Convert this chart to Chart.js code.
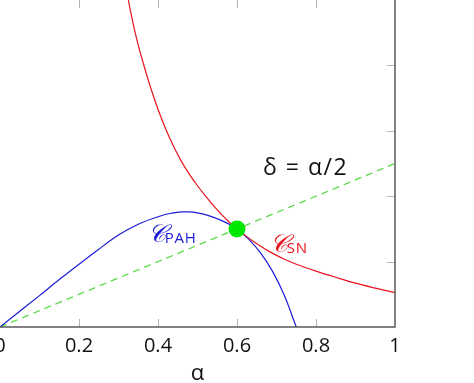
<!DOCTYPE html>
<html>
<head>
<meta charset="utf-8">
<script src="https://cdn.jsdelivr.net/npm/chart.js@4/dist/chart.umd.min.js"></script>
<style>
html,body{margin:0;padding:0;background:#fff;overflow:hidden;}
#wrap{position:relative;width:474px;height:383px;}
</style>
</head>
<body>
<div id="wrap"><canvas id="c" width="474" height="383"></canvas></div>
<script>
// tick values
const xTicks = [0, 0.2, 0.4, 0.6, 0.8, 1];
const yTicks = [0, 0.2, 0.4, 0.6, 0.8, 1];

// C_PAH curve (blue)
const alphaPAH = [0, 0.05, 0.1, 0.15, 0.2, 0.25, 0.3, 0.35, 0.4, 0.43, 0.46, 0.48, 0.5, 0.53, 0.56, 0.6, 0.63, 0.66, 0.69, 0.72, 0.75];
const deltaPAH = [0, 0.048, 0.096, 0.145, 0.192, 0.238, 0.281, 0.314, 0.337, 0.347, 0.352, 0.352, 0.349, 0.34, 0.326, 0.30, 0.268, 0.226, 0.17, 0.096, 0];

// C_SN curve (red)
const alphaSN = [0.325, 0.33, 0.34, 0.35, 0.36, 0.38, 0.40, 0.42, 0.44, 0.46, 0.48, 0.50, 0.52, 0.54, 0.56, 0.58, 0.60, 0.62, 0.64, 0.66, 0.68, 0.70, 0.72, 0.75, 0.80, 0.85, 0.90, 0.95, 1.0];
const deltaSN = [1.0, 0.968, 0.912, 0.862, 0.818, 0.737, 0.666, 0.604, 0.551, 0.505, 0.466, 0.432, 0.401, 0.372, 0.345, 0.321, 0.300, 0.281, 0.263, 0.247, 0.232, 0.219, 0.207, 0.192, 0.171, 0.152, 0.134, 0.119, 0.105];

// line delta = alpha/2
const alphaLine = [0, 1];
const deltaLine = [0, 0.5];

// intersection point
const alphaDot = [0.6];
const deltaDot = [0.3];

const pts = (xs, ys) => xs.map((x, i) => ({x: x, y: ys[i]}));

const framePlugin = {
  id: 'frame',
  afterDatasetsDraw(chart) {
    const {ctx, chartArea: a, scales: {x, y}} = chart;
    ctx.save();
    // inward ticks
    ctx.strokeStyle = '#b4b4b4';
    ctx.lineWidth = 1;
    const L = 8;
    ctx.beginPath();
    xTicks.slice(1, -1).forEach(v => {
      const px = Math.round(x.getPixelForValue(v)) + 0.5;
      ctx.moveTo(px, a.bottom); ctx.lineTo(px, a.bottom - L);
      ctx.moveTo(px, a.top); ctx.lineTo(px, a.top + L);
    });
    yTicks.slice(1, -1).forEach(v => {
      const py = Math.round(y.getPixelForValue(v)) + 0.5;
      ctx.moveTo(a.right, py); ctx.lineTo(a.right - L, py);
    });
    ctx.stroke();
    // frame lines (bottom and right)
    ctx.strokeStyle = '#5a5a5a';
    ctx.lineWidth = 1.5;
    ctx.beginPath();
    ctx.moveTo(a.left, a.bottom); ctx.lineTo(a.right, a.bottom); ctx.lineTo(a.right, a.top - 2);
    ctx.stroke();

    // annotations
    ctx.textBaseline = 'alphabetic';
    ctx.textAlign = 'left';
    ctx.fillStyle = '#111111';
    ctx.font = '23px "Open Sans", sans-serif';
    try { ctx.letterSpacing = '1.5px'; } catch (e) {}
    ctx.fillText('δ = α/2', x.getPixelForValue(0.666), y.getPixelForValue(0.464));
    try { ctx.letterSpacing = '0px'; } catch (e) {}

    const drawC = (color, sub, ax, dy) => {
      const px = x.getPixelForValue(ax), py = y.getPixelForValue(dy);
      ctx.fillStyle = color;
      ctx.font = 'italic 25px "DejaVu Serif", serif';
      ctx.fillText('𝒞', px, py);
      const w = ctx.measureText('𝒞').width;
      ctx.font = '15px "Open Sans", sans-serif';
      try { ctx.letterSpacing = '0.8px'; } catch (e) {}
      ctx.fillText(sub, px + w - 1, py + 1);
      try { ctx.letterSpacing = '0px'; } catch (e) {}
    };
    drawC('#1c1cd8', 'PAH', 0.374, 0.26);
    drawC('#e8141e', 'SN', 0.683, 0.229);
    ctx.restore();
  }
};

new Chart(document.getElementById('c'), {
  type: 'scatter',
  data: {
    datasets: [
      {label: 'dot', data: pts(alphaDot, deltaDot), pointRadius: 8.5, pointHoverRadius: 8.5,
       backgroundColor: '#00e800', borderWidth: 0, showLine: false, order: 0},
      {label: 'line', data: pts(alphaLine, deltaLine), showLine: true, pointRadius: 0,
       borderColor: '#5cd94a', borderWidth: 1.3, borderDash: [7, 5], order: 3},
      {label: 'PAH', data: pts(alphaPAH, deltaPAH), showLine: true, pointRadius: 0,
       borderColor: '#1c1cd8', borderWidth: 1.2, cubicInterpolationMode: 'monotone', order: 2},
      {label: 'SN', data: pts(alphaSN, deltaSN), showLine: true, pointRadius: 0,
       borderColor: '#e8141e', borderWidth: 1.2, cubicInterpolationMode: 'monotone', order: 1}
    ]
  },
  options: {
    responsive: false,
    animation: false,
    events: [],
    layout: {autoPadding: false, padding: {left: 0, right: 79, top: 0, bottom: 0}},
    plugins: {legend: {display: false}, tooltip: {enabled: false}},
    scales: {
      x: {
        type: 'linear', position: 'bottom', min: 0, max: 1,
        afterBuildTicks: s => { s.ticks = xTicks.map(v => ({value: v})); },
        afterFit: s => { s.height = 56; s.paddingLeft = 0; s.paddingRight = 0; },
        grid: {display: false, drawTicks: false},
        border: {display: false},
        ticks: {
          padding: 7, color: '#111111',
          font: {family: '"Open Sans", sans-serif', size: 20},
          callback: v => String(v), maxRotation: 0, autoSkip: false
        },
        title: {display: true, text: 'α', color: '#111111',
                font: {family: '"Open Sans", sans-serif', size: 22, lineHeight: 0.75}, padding: {top: 0, bottom: 1}}
      },
      y: {
        type: 'linear', min: 0, max: 1, display: false,
        afterBuildTicks: s => { s.ticks = yTicks.map(v => ({value: v})); }
      }
    }
  },
  plugins: [framePlugin]
});
</script>
</body>
</html>
